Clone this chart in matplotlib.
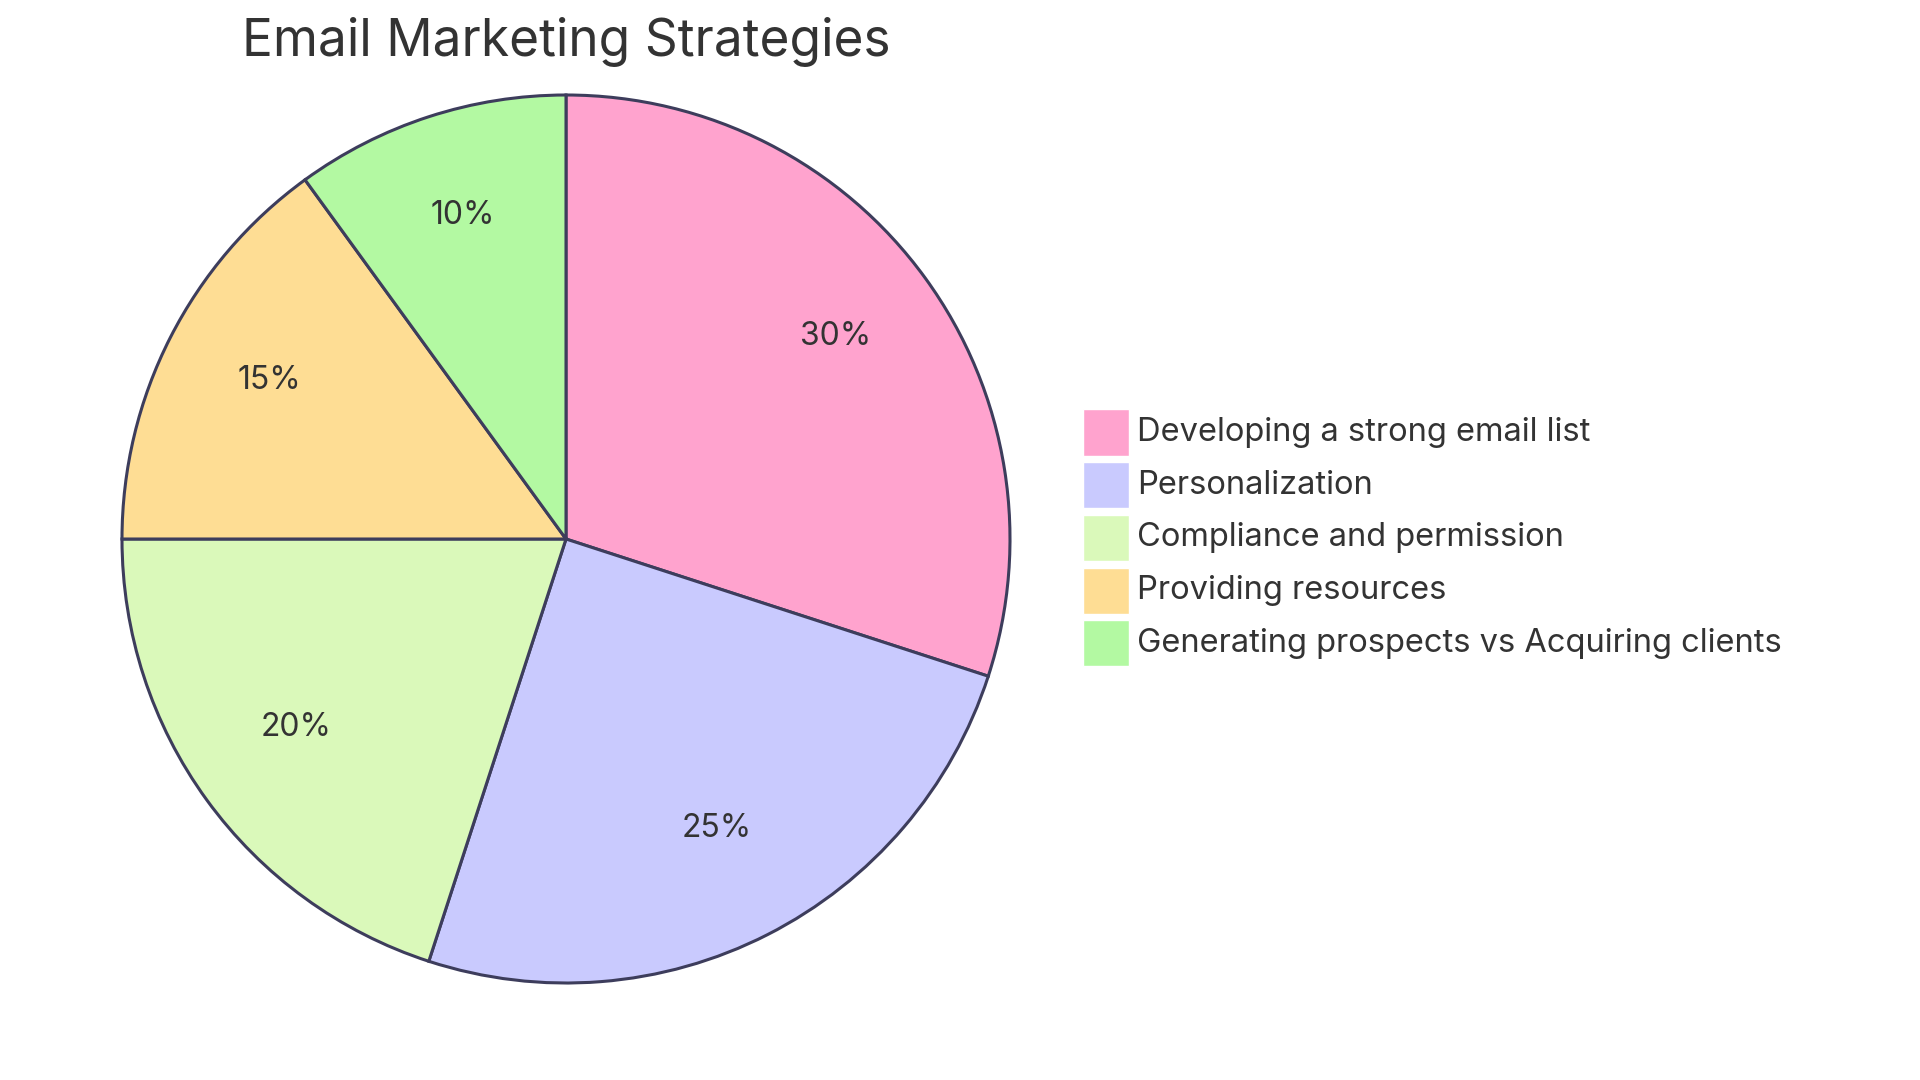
import matplotlib
matplotlib.use("Agg")
import matplotlib.pyplot as plt
import matplotlib.transforms as mtransforms
from matplotlib.patches import Rectangle

categories = ["Developing a strong email list", "Personalization", "Compliance and permission",
              "Providing resources", "Generating prospects vs Acquiring clients"]
values = [30, 25, 20, 15, 10]
colors = ["#FFA3CE", "#C9CAFE", "#DAF9BA", "#FEDD94", "#B3F9A2"]
title = "Email Marketing Strategies"

plt.rcParams['font.family'] = ['Inter', 'DejaVu Sans']
W, H = 1920, 1080
fig = plt.figure(figsize=(19.2, 10.8), dpi=100)
fig.patch.set_facecolor("white")

cx, cy, r = 566, 539, 444
ax = fig.add_axes([(cx - r) / W, (H - cy - r) / H, 2 * r / W, 2 * r / H])
wedges, texts, autotexts = ax.pie(values, colors=colors, startangle=90, counterclock=False,
                                  autopct=lambda p: f"{p:.0f}%", pctdistance=0.75, radius=1,
                                  wedgeprops=dict(edgecolor="#3D3D5C", linewidth=2.2, clip_on=False),
                                  textprops=dict(color="#333333", fontsize=23))
for t in autotexts:
    t.set_transform(mtransforms.offset_copy(t.get_transform(), fig=fig, x=0, y=7, units="dots"))
ax.set_xlim(-1, 1)
ax.set_ylim(-1, 1)
ax.set_aspect("equal")
ax.axis("off")

fig.text(cx / W, 1 - 42 / H, title, ha="center", va="center", fontsize=37, color="#333333")

x0, y0, step, sq = 1083, 432.5, 52.7, 46
for i, (c, lab) in enumerate(zip(colors, categories)):
    yc = y0 + i * step
    fig.patches.append(Rectangle((x0 / W, 1 - (yc + sq / 2) / H), sq / W, sq / H,
                                 transform=fig.transFigure, facecolor=c, edgecolor="white", linewidth=1.0))
    fig.text(1137 / W, 1 - yc / H, lab, ha="left", va="center", fontsize=23.5, color="#333333")

fig.savefig("out.png", dpi=100)
